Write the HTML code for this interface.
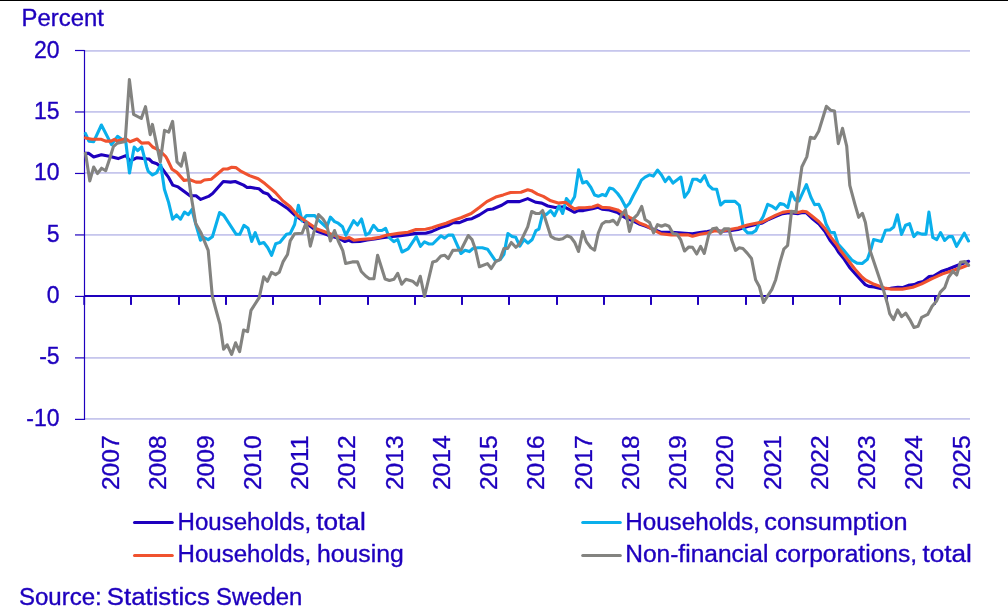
<!DOCTYPE html>
<html><head><meta charset="utf-8"><title>Chart</title>
<style>
html,body{margin:0;padding:0;background:#fff;}
body{width:1008px;height:613px;overflow:hidden;}
svg{display:block;will-change:transform;}
text{font-family:"Liberation Sans",sans-serif;fill:#1E00BE;stroke:#1E00BE;stroke-width:0.35px;stroke-linejoin:round;}
</style></head><body>
<svg width="1008" height="613" viewBox="0 0 1008 613">
<rect x="0" y="0" width="1008" height="613" fill="#ffffff"/>
<rect x="0" y="0" width="1008" height="1" fill="#000000"/>

<rect x="84.5" y="50" width="885.5" height="1" fill="#C6C6EC"/>
<rect x="84.5" y="51" width="885.5" height="1" fill="#D2D2F1"/>
<rect x="84.5" y="111" width="885.5" height="1" fill="#C6C6EC"/>
<rect x="84.5" y="112" width="885.5" height="1" fill="#D2D2F1"/>
<rect x="84.5" y="172" width="885.5" height="1" fill="#C6C6EC"/>
<rect x="84.5" y="173" width="885.5" height="1" fill="#D2D2F1"/>
<rect x="84.5" y="234" width="885.5" height="1" fill="#C6C6EC"/>
<rect x="84.5" y="235" width="885.5" height="1" fill="#D2D2F1"/>
<rect x="84.5" y="357" width="885.5" height="1" fill="#C6C6EC"/>
<rect x="84.5" y="358" width="885.5" height="1" fill="#D2D2F1"/>
<rect x="84.5" y="418" width="885.5" height="1" fill="#C6C6EC"/>
<rect x="84.5" y="419" width="885.5" height="1" fill="#D2D2F1"/>
<line x1="84.5" y1="50" x2="84.5" y2="420" stroke="#1E00BE" stroke-width="1.2"/>
<line x1="75" y1="50.50" x2="84.5" y2="50.50" stroke="#1E00BE" stroke-width="1.2"/>
<line x1="75" y1="111.98" x2="84.5" y2="111.98" stroke="#1E00BE" stroke-width="1.2"/>
<line x1="75" y1="173.46" x2="84.5" y2="173.46" stroke="#1E00BE" stroke-width="1.2"/>
<line x1="75" y1="234.94" x2="84.5" y2="234.94" stroke="#1E00BE" stroke-width="1.2"/>
<line x1="75" y1="296.42" x2="84.5" y2="296.42" stroke="#1E00BE" stroke-width="1.2"/>
<line x1="75" y1="357.90" x2="84.5" y2="357.90" stroke="#1E00BE" stroke-width="1.2"/>
<line x1="75" y1="419.38" x2="84.5" y2="419.38" stroke="#1E00BE" stroke-width="1.2"/>
<line x1="84.0" y1="296" x2="970" y2="296" stroke="#1E00BE" stroke-width="2.2"/>
<rect x="83.3" y="296" width="1.8" height="8.9" fill="#1E00BE"/>
<rect x="130" y="296" width="2" height="8.9" fill="#1E00BE"/>
<rect x="178" y="296" width="2" height="8.9" fill="#1E00BE"/>
<rect x="225" y="296" width="2" height="8.9" fill="#1E00BE"/>
<rect x="272" y="296" width="2" height="8.9" fill="#1E00BE"/>
<rect x="319" y="296" width="2" height="8.9" fill="#1E00BE"/>
<rect x="367" y="296" width="2" height="8.9" fill="#1E00BE"/>
<rect x="414" y="296" width="2" height="8.9" fill="#1E00BE"/>
<rect x="461" y="296" width="2" height="8.9" fill="#1E00BE"/>
<rect x="508" y="296" width="2" height="8.9" fill="#1E00BE"/>
<rect x="556" y="296" width="2" height="8.9" fill="#1E00BE"/>
<rect x="603" y="296" width="2" height="8.9" fill="#1E00BE"/>
<rect x="650" y="296" width="2" height="8.9" fill="#1E00BE"/>
<rect x="697" y="296" width="2" height="8.9" fill="#1E00BE"/>
<rect x="745" y="296" width="2" height="8.9" fill="#1E00BE"/>
<rect x="792" y="296" width="2" height="8.9" fill="#1E00BE"/>
<rect x="839" y="296" width="2" height="8.9" fill="#1E00BE"/>
<rect x="886" y="296" width="2" height="8.9" fill="#1E00BE"/>
<rect x="934" y="296" width="2" height="8.9" fill="#1E00BE"/>
<polyline fill="none" stroke="#1E00BE" stroke-width="3.1" stroke-linejoin="round" stroke-linecap="round" points="85.4,153.4 88.9,153.4 93.7,156.9 101.4,154.8 109.2,156.2 118.1,158.6 125.8,155.6 130.0,161.0 137.1,157.7 146.7,158.9 149.0,159.0 152.5,162.3 156.9,163.7 160.9,167.0 168.6,177.4 172.7,185.1 178.1,186.9 182.9,190.5 190.0,195.8 196.0,195.8 200.7,199.4 208.5,196.4 212.6,193.5 223.3,181.5 230.5,182.1 235.2,181.5 243.6,185.1 247.1,187.5 250.0,187.3 258.9,188.8 263.4,192.5 267.9,194.0 272.3,199.2 276.0,200.7 287.2,208.2 294.6,214.9 305.0,222.3 317.0,231.2 327.4,234.9 338.5,238.2 344.9,241.5 348.6,240.3 352.3,241.8 359.8,241.5 367.2,240.0 374.6,239.0 382.1,237.8 392.5,236.4 398.4,236.0 408.0,234.6 416.0,233.4 425.6,233.3 432.0,231.4 440.0,227.8 449.0,224.9 453.5,222.4 459.5,222.6 466.9,219.5 471.9,218.7 479.3,215.0 487.5,209.8 492.7,209.0 501.7,205.3 507.6,201.6 519.5,201.6 527.7,198.6 535.9,202.3 541.8,203.1 547.8,206.0 555.2,207.5 564.2,206.8 570.0,209.9 574.5,212.3 578.5,210.4 583.4,210.6 592.3,208.8 598.0,207.3 602.0,209.1 609.4,209.9 617.6,212.4 622.1,215.8 625.8,218.0 629.5,219.5 634.0,221.3 639.9,224.3 645.9,226.2 653.3,229.2 660.8,232.2 671.2,232.4 678.9,232.9 685.0,233.2 692.3,233.8 699.8,232.6 707.4,231.5 714.8,230.0 720.7,231.2 729.7,230.6 738.0,229.4 747.5,226.4 756.0,224.5 762.4,223.0 768.5,219.5 775.9,216.3 782.6,213.6 789.3,212.8 798.2,213.6 802.7,212.4 806.4,212.8 811.6,218.0 819.0,224.0 825.0,231.4 830.0,240.3 835.4,247.0 838.4,252.0 844.3,259.3 850.3,268.3 857.7,276.5 865.2,284.6 868.9,286.4 874.1,286.9 881.5,288.8 890.5,288.4 897.9,287.3 902.4,287.6 908.3,285.4 914.3,284.6 918.8,282.4 923.2,281.4 929.2,276.5 933.6,276.0 941.1,271.5 948.5,269.0 955.9,266.0 961.9,263.8 968.6,261.3"/>
<polyline fill="none" stroke="#0AAFEB" stroke-width="3.1" stroke-linejoin="round" stroke-linecap="round" points="85.4,133.3 88.9,141.1 93.7,141.7 101.4,125.0 111.5,144.6 117.5,136.3 121.7,139.3 125.8,141.7 129.5,173.0 134.2,147.0 137.7,150.6 141.7,147.0 146.7,166.7 148.3,171.4 152.5,175.0 156.7,172.6 160.8,164.9 164.4,189.3 168.6,202.4 172.6,219.2 176.5,215.0 180.5,219.2 184.5,212.1 188.4,214.7 191.9,209.5 196.3,226.0 200.5,240.2 203.5,237.3 208.2,239.6 212.4,236.7 219.6,212.5 223.8,215.4 236.2,234.3 239.8,234.3 243.9,225.4 248.1,228.3 251.7,241.4 255.2,232.6 259.5,243.8 263.8,242.5 267.8,247.8 271.6,255.3 275.7,243.8 279.8,242.4 286.5,234.2 290.2,233.5 294.6,224.5 298.4,205.2 302.1,220.8 306.5,215.6 314.7,215.6 318.5,220.1 326.6,227.5 330.4,217.1 334.6,221.6 338.2,223.2 342.5,226.8 345.8,235.3 353.6,220.7 357.5,225.0 361.5,219.0 365.9,235.0 369.2,233.2 373.5,225.3 378.0,230.5 381.9,230.5 385.6,228.3 389.3,237.6 393.8,241.7 397.7,239.5 402.0,252.0 408.1,248.9 416.3,236.6 420.5,246.3 424.5,241.8 429.0,244.0 432.7,244.0 440.9,235.8 444.6,238.1 448.3,235.1 452.8,235.1 461.0,253.5 465.0,250.3 469.4,251.6 472.9,248.5 477.9,247.7 482.3,247.7 487.5,249.2 495.7,261.1 500.2,259.6 503.9,254.4 507.9,233.6 512.1,236.5 515.8,237.3 519.8,246.2 524.0,239.5 528.0,243.2 532.2,239.5 535.9,230.6 538.9,229.1 542.8,213.4 546.2,214.7 550.6,210.6 554.5,215.7 559.0,206.0 562.7,213.5 566.4,198.6 570.7,203.5 574.6,196.8 578.6,169.7 582.7,183.0 586.6,181.5 590.9,187.5 594.6,195.0 598.3,196.3 602.4,194.5 605.7,195.7 609.6,188.0 613.2,189.0 617.6,193.5 621.3,198.7 625.8,207.3 629.5,203.2 633.2,195.7 637.7,187.5 641.4,180.1 645.1,177.1 649.6,174.9 653.3,176.1 657.5,170.1 661.5,174.9 665.2,181.6 669.0,177.1 673.0,183.1 680.9,177.1 684.6,197.2 688.8,191.3 692.8,179.3 696.5,179.2 700.5,181.6 704.6,175.6 708.6,185.3 712.6,189.0 716.7,189.3 720.6,205.0 724.6,201.4 735.0,201.4 739.4,205.4 743.5,228.5 747.6,232.9 752.1,232.9 755.8,230.7 759.5,222.5 763.2,216.5 767.7,204.3 771.7,206.1 775.9,209.1 780.1,203.5 784.1,204.6 787.8,207.6 791.5,192.4 795.2,199.9 799.0,200.9 806.4,184.6 810.9,197.2 814.6,204.6 818.8,204.3 822.8,212.8 826.1,224.0 830.2,232.2 834.4,232.6 838.1,244.1 843.5,250.0 851.8,260.1 857.0,263.1 862.2,263.5 867.4,259.3 871.0,249.0 873.6,239.6 881.3,241.5 885.5,230.2 889.9,229.9 893.7,227.0 897.4,214.8 901.5,234.4 905.6,225.2 909.6,223.7 913.8,236.6 917.5,232.6 921.9,234.1 926.0,234.1 928.9,212.1 932.8,237.4 936.8,239.6 940.5,232.6 944.7,240.4 948.7,236.6 952.4,236.6 956.6,246.3 964.3,233.2 968.5,241.0"/>
<polyline fill="none" stroke="#F0522F" stroke-width="3.1" stroke-linejoin="round" stroke-linecap="round" points="85.4,137.9 91.9,139.3 101.4,139.3 105.6,141.1 111.0,141.1 114.5,139.3 116.9,141.1 125.8,138.7 130.0,141.7 137.1,139.0 141.6,143.1 148.6,142.8 152.6,147.0 157.4,149.4 161.4,152.4 165.7,156.5 167.4,159.5 172.1,169.3 176.9,172.4 184.0,180.4 190.0,179.8 196.0,182.1 200.7,182.1 204.3,180.0 211.4,179.2 216.2,175.0 223.3,169.0 227.5,169.0 231.7,167.3 235.8,167.6 241.2,171.4 249.5,175.6 258.2,178.8 264.9,183.6 275.3,192.5 282.7,200.7 290.2,206.7 297.6,215.6 305.0,220.8 317.0,229.0 327.4,232.7 339.3,237.2 344.9,238.8 349.3,237.5 353.8,240.2 360.0,239.5 372.0,238.6 380.0,237.2 386.4,235.1 392.5,234.2 398.4,233.4 408.0,232.2 416.0,229.5 425.6,229.3 432.0,227.8 438.6,225.4 446.1,223.2 453.5,220.2 461.0,217.7 471.2,213.5 479.3,207.5 486.8,201.6 495.7,197.1 503.2,194.9 510.5,192.5 521.0,192.3 527.7,189.7 531.4,190.7 537.4,194.1 543.3,196.4 550.8,200.8 558.2,203.1 565.7,202.3 570.0,206.0 574.5,209.1 578.9,207.7 584.9,207.7 592.3,207.0 598.0,205.0 602.0,207.4 609.4,207.7 617.6,209.9 622.1,212.8 625.8,215.1 629.5,217.3 634.0,219.5 639.9,223.2 645.9,225.5 653.3,229.9 660.8,233.7 671.2,234.9 680.9,234.9 687.8,234.7 692.5,236.3 700.0,234.3 707.4,233.0 714.8,230.8 720.7,231.4 729.7,229.5 738.0,227.9 747.5,224.9 756.0,223.2 762.4,222.0 768.5,218.8 775.9,215.1 782.6,212.4 789.3,211.3 798.2,212.4 802.7,211.3 806.4,211.8 811.6,215.8 819.0,221.8 825.0,228.5 831.0,237.4 836.9,244.8 839.9,249.7 847.3,259.3 854.8,269.0 862.2,277.2 865.9,280.2 874.1,284.3 884.5,287.9 890.5,289.1 902.4,289.1 912.8,287.3 921.7,283.9 932.1,278.7 942.6,273.9 953.0,270.5 961.9,267.5 968.4,264.9"/>
<polyline fill="none" stroke="#838380" stroke-width="3.1" stroke-linejoin="round" stroke-linecap="round" points="85.5,153.2 89.8,180.9 93.7,167.0 97.5,173.5 101.6,168.2 105.7,170.7 109.6,159.0 113.4,146.6 117.3,143.2 125.2,141.6 129.4,79.6 133.6,114.4 141.3,118.5 145.5,106.7 150.2,134.6 152.4,124.4 160.3,162.0 164.5,130.4 168.7,132.1 172.6,121.4 177.0,161.9 181.2,166.1 184.6,153.0 187.6,170.2 191.0,195.0 195.7,223.6 201.1,233.1 208.2,250.4 212.3,296.1 216.0,310.0 220.0,324.4 223.6,349.2 227.2,344.8 231.6,354.4 235.6,342.8 239.6,351.6 243.6,330.0 247.6,331.6 251.0,310.3 259.2,297.6 263.7,276.8 267.4,281.3 271.5,272.3 275.6,274.6 279.3,272.3 283.0,261.9 287.5,254.5 290.2,240.9 294.6,233.8 302.1,233.2 306.3,222.3 310.3,246.1 318.5,214.6 322.9,218.8 326.6,224.5 330.4,240.9 334.5,230.5 338.3,241.0 342.8,250.7 345.6,263.4 352.3,261.9 357.5,261.9 361.3,271.5 365.7,276.0 369.4,278.7 373.9,278.7 377.6,255.2 385.1,279.0 389.5,280.5 394.0,279.3 397.7,273.3 401.7,284.2 405.9,279.3 412.6,281.2 417.0,285.2 420.3,276.3 424.5,296.5 432.7,261.9 436.4,261.1 440.9,255.9 444.6,255.2 448.3,258.5 452.8,250.4 461.0,250.0 468.3,235.5 472.0,239.6 475.5,249.5 479.4,266.8 487.5,263.6 491.3,268.5 495.7,261.5 499.9,259.6 503.9,248.5 507.6,248.5 511.3,242.5 515.8,247.3 519.5,244.0 527.7,226.9 531.7,211.5 535.9,213.5 539.6,213.5 542.6,210.5 550.8,236.3 555.2,238.8 559.0,239.5 562.7,238.8 567.1,235.8 570.9,237.3 574.6,242.2 578.5,251.5 582.7,231.6 586.4,241.8 590.9,247.8 594.6,250.1 598.3,233.0 602.0,224.0 605.7,221.5 609.4,221.8 613.2,220.3 617.3,224.7 621.3,215.1 625.4,209.9 629.5,231.4 633.2,218.8 637.7,214.3 641.7,206.4 645.1,219.5 649.6,222.5 653.6,232.9 657.5,224.7 661.5,226.2 665.2,224.7 669.0,226.2 673.0,233.6 676.9,234.0 680.6,239.6 684.5,251.0 688.8,247.0 692.5,247.3 696.7,254.0 700.6,246.4 704.3,253.5 708.7,235.0 712.5,228.7 716.5,227.9 720.6,233.6 724.3,228.7 728.8,228.7 731.8,240.3 735.5,250.4 739.2,247.7 742.9,248.5 747.4,253.4 751.5,258.5 755.6,279.7 759.3,286.4 763.5,302.5 767.5,296.1 771.9,289.4 775.7,279.7 780.1,261.9 783.8,249.2 787.6,245.5 789.3,231.4 791.5,211.3 796.0,212.1 798.2,192.7 801.9,166.7 806.8,156.9 810.4,137.3 814.5,138.5 818.7,131.3 826.4,106.3 830.6,110.2 834.5,111.1 838.3,143.6 842.5,128.3 846.7,146.2 849.8,185.3 855.0,204.6 858.7,217.3 862.4,213.3 865.4,222.5 869.9,250.0 883.8,291.3 887.5,304.0 889.7,313.7 893.5,319.6 897.6,309.9 901.6,316.6 905.7,313.2 909.8,319.6 914.0,327.5 918.0,326.3 921.7,317.4 927.7,314.4 932.1,306.2 936.6,301.0 940.3,292.1 944.8,287.6 948.5,277.2 953.0,271.3 956.7,275.0 960.4,262.3 964.9,261.6 968.6,265.3"/>
<text x="21.6" y="25.6" font-size="23" textLength="82.2" lengthAdjust="spacingAndGlyphs">Percent</text>
<text x="59.6" y="57.5" font-size="23" text-anchor="end">20</text>
<text x="59.6" y="118.8" font-size="23" text-anchor="end">15</text>
<text x="59.6" y="180.2" font-size="23" text-anchor="end">10</text>
<text x="59.6" y="241.5" font-size="23" text-anchor="end">5</text>
<text x="59.6" y="302.9" font-size="23" text-anchor="end">0</text>
<text x="59.6" y="364.2" font-size="23" text-anchor="end">-5</text>
<text x="59.6" y="425.6" font-size="23" text-anchor="end">-10</text>
<text transform="translate(119.20,490.1) rotate(-90)" font-size="23" textLength="54.7" lengthAdjust="spacingAndGlyphs">2007</text>
<text transform="translate(166.45,490.1) rotate(-90)" font-size="23" textLength="54.7" lengthAdjust="spacingAndGlyphs">2008</text>
<text transform="translate(213.70,490.1) rotate(-90)" font-size="23" textLength="54.7" lengthAdjust="spacingAndGlyphs">2009</text>
<text transform="translate(260.95,490.1) rotate(-90)" font-size="23" textLength="54.7" lengthAdjust="spacingAndGlyphs">2010</text>
<text transform="translate(308.20,490.1) rotate(-90)" font-size="23" textLength="54.7" lengthAdjust="spacingAndGlyphs">2011</text>
<text transform="translate(355.45,490.1) rotate(-90)" font-size="23" textLength="54.7" lengthAdjust="spacingAndGlyphs">2012</text>
<text transform="translate(402.70,490.1) rotate(-90)" font-size="23" textLength="54.7" lengthAdjust="spacingAndGlyphs">2013</text>
<text transform="translate(449.95,490.1) rotate(-90)" font-size="23" textLength="54.7" lengthAdjust="spacingAndGlyphs">2014</text>
<text transform="translate(497.20,490.1) rotate(-90)" font-size="23" textLength="54.7" lengthAdjust="spacingAndGlyphs">2015</text>
<text transform="translate(544.45,490.1) rotate(-90)" font-size="23" textLength="54.7" lengthAdjust="spacingAndGlyphs">2016</text>
<text transform="translate(591.70,490.1) rotate(-90)" font-size="23" textLength="54.7" lengthAdjust="spacingAndGlyphs">2017</text>
<text transform="translate(638.95,490.1) rotate(-90)" font-size="23" textLength="54.7" lengthAdjust="spacingAndGlyphs">2018</text>
<text transform="translate(686.20,490.1) rotate(-90)" font-size="23" textLength="54.7" lengthAdjust="spacingAndGlyphs">2019</text>
<text transform="translate(733.45,490.1) rotate(-90)" font-size="23" textLength="54.7" lengthAdjust="spacingAndGlyphs">2020</text>
<text transform="translate(780.70,490.1) rotate(-90)" font-size="23" textLength="54.7" lengthAdjust="spacingAndGlyphs">2021</text>
<text transform="translate(827.95,490.1) rotate(-90)" font-size="23" textLength="54.7" lengthAdjust="spacingAndGlyphs">2022</text>
<text transform="translate(875.20,490.1) rotate(-90)" font-size="23" textLength="54.7" lengthAdjust="spacingAndGlyphs">2023</text>
<text transform="translate(922.45,490.1) rotate(-90)" font-size="23" textLength="54.7" lengthAdjust="spacingAndGlyphs">2024</text>
<text transform="translate(969.70,490.1) rotate(-90)" font-size="23" textLength="54.7" lengthAdjust="spacingAndGlyphs">2025</text>
<text x="177.60" y="529.7" font-size="23" textLength="133.70" lengthAdjust="spacingAndGlyphs">Households,</text>
<text x="316.30" y="529.7" font-size="23" textLength="49.40" lengthAdjust="spacingAndGlyphs">total</text>
<text x="177.60" y="561.9" font-size="23" textLength="133.70" lengthAdjust="spacingAndGlyphs">Households,</text>
<text x="317.00" y="561.9" font-size="23" textLength="86.80" lengthAdjust="spacingAndGlyphs">housing</text>
<text x="625.20" y="529.7" font-size="23" textLength="134.60" lengthAdjust="spacingAndGlyphs">Households,</text>
<text x="764.30" y="529.7" font-size="23" textLength="143.30" lengthAdjust="spacingAndGlyphs">consumption</text>
<text x="625.20" y="561.9" font-size="23" textLength="143.20" lengthAdjust="spacingAndGlyphs">Non-financial</text>
<text x="775.00" y="561.9" font-size="23" textLength="142.10" lengthAdjust="spacingAndGlyphs">corporations,</text>
<text x="922.50" y="561.9" font-size="23" textLength="49.40" lengthAdjust="spacingAndGlyphs">total</text>
<text x="18.90" y="604.6" font-size="23" textLength="82.90" lengthAdjust="spacingAndGlyphs">Source:</text>
<text x="106.80" y="604.6" font-size="23" textLength="103.10" lengthAdjust="spacingAndGlyphs">Statistics</text>
<text x="216.10" y="604.6" font-size="23" textLength="86.30" lengthAdjust="spacingAndGlyphs">Sweden</text>
<line x1="134.5" y1="522.5" x2="172.3" y2="522.5" stroke="#1E00BE" stroke-width="3" stroke-linecap="round"/>
<line x1="134.5" y1="555.5" x2="172.3" y2="555.5" stroke="#F0522F" stroke-width="3" stroke-linecap="round"/>
<line x1="582.7" y1="522.5" x2="620.3" y2="522.5" stroke="#0AAFEB" stroke-width="3" stroke-linecap="round"/>
<line x1="582.7" y1="555.5" x2="620.3" y2="555.5" stroke="#838380" stroke-width="3" stroke-linecap="round"/>
</svg></body></html>
